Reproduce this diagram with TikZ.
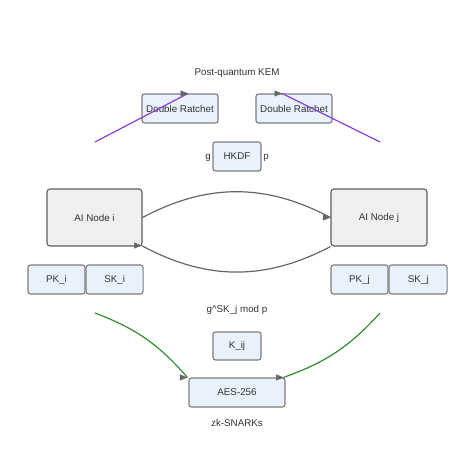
\documentclass[tikz,border=0pt]{standalone}
\usepackage{fontspec}
\setmainfont{Liberation Sans}
\usepackage{tikz}
\usetikzlibrary{shapes,arrows.meta,positioning}

\definecolor{boxfill}{HTML}{E8F1FC}
\definecolor{boxline}{HTML}{7C7C7C}
\definecolor{nodefill}{HTML}{EFEFEF}
\definecolor{nodeline}{HTML}{5C5C5C}
\definecolor{linkgray}{HTML}{666666}
\definecolor{kempurple}{HTML}{8B3FD8}
\definecolor{aesgreen}{HTML}{2F8F2F}
\definecolor{txt}{HTML}{333333}

\begin{document}
\begin{tikzpicture}[x=1pt, y=-1pt, font=\fontsize{9.8}{11}\selectfont, text=txt]
    % Define styles
    \tikzstyle{ainode} = [rectangle, rounded corners=3pt, minimum width=95pt, minimum height=57pt, text centered, draw=nodeline, fill=nodefill, line width=1.1pt]
    \tikzstyle{keybox} = [rectangle, rounded corners=2.5pt, minimum width=57pt, minimum height=29pt, text centered, draw=boxline, fill=boxfill, line width=1.1pt]
    \tikzstyle{note} = [text centered, inner sep=0pt, text height=1.6ex, text depth=0.3ex]
    \tikzstyle{link} = [draw=linkgray, line width=1.2pt]
    \tikzstyle{kemlink} = [draw=kempurple, line width=1.2pt]
    \tikzstyle{aeslink} = [draw=aesgreen, line width=1.2pt]
    \tikzstyle{tipmark} = [draw=linkgray, fill=linkgray, line width=0.5pt, -{Triangle[length=7.5pt, width=6pt]}]

    \useasboundingbox (0,0) rectangle (474,474);

    % Nodes
    \node[ainode] (nodei) at (94.5,217.5) {AI Node i};
    \node[ainode, minimum width=96pt] (nodej) at (379,217.5) {AI Node j};
    \node[keybox] (pki) at (56.5,279.5) {PK\_i};
    \node[keybox, right=0pt of pki] (ski) {SK\_i};
    \node[keybox] (pkj) at (359.5,279.5) {PK\_j};
    \node[keybox, minimum width=58pt, right=0pt of pkj] (skj) {SK\_j};
    \node[keybox, minimum width=76pt] (ratchetl) at (180,108.5) {Double Ratchet};
    \node[keybox, minimum width=76pt] (ratchetr) at (294,108.5) {Double Ratchet};
    \node[keybox, minimum width=48pt] (hkdf) at (237,156.5) {HKDF};
    \node[note, left=1.5pt of hkdf] (hkdfg) {g};
    \node[note, right=1.5pt of hkdf] (hkdfp) {p};
    \node[keybox, minimum width=48pt, minimum height=28pt] (kij) at (237,346) {K\_ij};
    \node[keybox, minimum width=96pt] (aes) at (237,392.5) {AES-256};
    \node[note] (kem) at (237,72) {Post-quantum KEM};
    \node[note] (dh) at (237,309) {g\textasciicircum SK\_j mod p};
    \node[note] (zk) at (237,423) {zk-SNARKs};

    % Free ends and tips
    \coordinate (kemi) at (95,142);
    \coordinate (kemj) at (380,142);
    \coordinate (aesi) at (95,313);
    \coordinate (aesj) at (380,313);
    \coordinate (tipl) at ([xshift=8pt]ratchetl.north);
    \coordinate (tipr) at ([xshift=-12pt]ratchetr.north);
    \coordinate (tipj) at (nodej.west);
    \coordinate (tipi) at ([xshift=-1pt, yshift=1pt]nodei.south east);
    \coordinate (tipal) at ([xshift=-1pt]aes.north west);
    \coordinate (tipar) at ([xshift=-2pt]aes.north east);

    % Connections
    \draw[link] (nodei.east) to[bend left=28] (tipj);
    \draw[link] (nodej.south west) to[bend left=28] (tipi);
    \draw[kemlink] (kemi) -- (tipl);
    \draw[kemlink] (tipr) -- (kemj);
    \draw[aeslink] (aesi) to[bend left=14] (tipal);
    \draw[aeslink] (tipar) to[bend right=14] (aesj);

    % Arrow tips
    \draw[tipmark] ([xshift=-7pt]tipl) -- (tipl);
    \draw[tipmark] ([xshift=-7pt]tipr) -- (tipr);
    \draw[tipmark] ([xshift=-7pt]tipj) -- (tipj);
    \draw[tipmark] ([xshift=-7pt]tipi) -- (tipi);
    \draw[tipmark] ([xshift=-7pt]tipal) -- (tipal);
    \draw[tipmark] ([xshift=-7pt]tipar) -- (tipar);
\end{tikzpicture}
\end{document}
